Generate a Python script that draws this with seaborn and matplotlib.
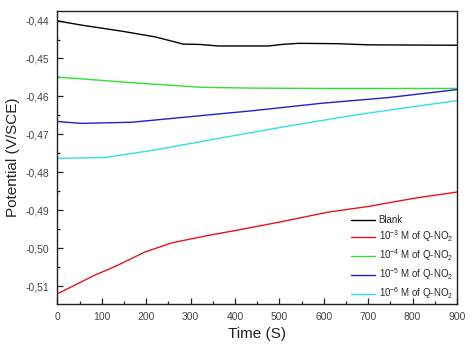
import matplotlib
matplotlib.use("Agg")
import matplotlib.pyplot as plt
import matplotlib.ticker as mticker
import numpy as np
import pandas as pd
import seaborn as sns

# Open-circuit potential vs time for each inhibitor concentration
blank_t = [0, 54, 145, 220, 283, 321, 362, 475, 505, 543, 633, 700, 888, 900]
blank_v = [-0.4401, -0.4412, -0.4428, -0.4443, -0.4462, -0.4463, -0.4467, -0.4467,
           -0.4463, -0.4460, -0.4461, -0.4464, -0.4465, -0.4465]

c3_t = [0, 84, 130, 197, 257, 332, 407, 505, 609, 700, 805, 900]
c3_v = [-0.5120, -0.5071, -0.5048, -0.5010, -0.4986, -0.4968, -0.4952, -0.4930,
        -0.4905, -0.4890, -0.4868, -0.4852]

c4_t = [0, 69, 182, 325, 437, 600, 900]
c4_v = [-0.4549, -0.4555, -0.4565, -0.4576, -0.4578, -0.4579, -0.4579]

c5_t = [0, 54, 167, 257, 445, 595, 745, 900]
c5_v = [-0.4666, -0.4671, -0.4668, -0.4658, -0.4637, -0.4618, -0.4603, -0.4582]

c6_t = [0, 107, 220, 370, 520, 670, 820, 900]
c6_v = [-0.4763, -0.4761, -0.4741, -0.4709, -0.4678, -0.4649, -0.4624, -0.4611]

labels = ["Blank",
          r"10$^{-3}$ M of Q-NO$_2$",
          r"10$^{-4}$ M of Q-NO$_2$",
          r"10$^{-5}$ M of Q-NO$_2$",
          r"10$^{-6}$ M of Q-NO$_2$"]
colors = ["#000000", "#e8141c", "#33dd33", "#2020c8", "#33e0e0"]

series = [(blank_t, blank_v), (c3_t, c3_v), (c4_t, c4_v), (c5_t, c5_v), (c6_t, c6_v)]
frames = []
for lab, (t, v) in zip(labels, series):
    frames.append(pd.DataFrame({"Time": t, "Potential": v, "Sample": lab}))
df = pd.concat(frames, ignore_index=True)

sns.set_style("ticks")
plt.rcParams["font.family"] = ["Liberation Sans", "DejaVu Sans"]
plt.rcParams["mathtext.fontset"] = "custom"
plt.rcParams["mathtext.rm"] = "Liberation Sans"
plt.rcParams["mathtext.it"] = "Liberation Sans"

fig = plt.figure(figsize=(4.74, 3.47), dpi=100)
ax = fig.add_axes([0.1213, 0.1239, 0.8428, 0.8453])

sns.lineplot(data=df, x="Time", y="Potential", hue="Sample", hue_order=labels,
             palette=dict(zip(labels, colors)), sort=False, estimator=None,
             linewidth=1.0, ax=ax)

ax.set_xlim(0, 900)
ax.set_ylim(-0.5147, -0.4374)
ax.xaxis.set_major_locator(mticker.MultipleLocator(100))
ax.xaxis.set_minor_locator(mticker.MultipleLocator(50))
ax.yaxis.set_major_locator(mticker.MultipleLocator(0.01))
ax.yaxis.set_minor_locator(mticker.MultipleLocator(0.005))
ax.yaxis.set_major_formatter(mticker.FuncFormatter(lambda v, p: f"{v:.2f}".replace(".", ",")))

ax.tick_params(which="both", direction="in", top=False, right=False,
               colors="#222222", labelcolor="#444444", labelsize=7.5, width=0.9)
ax.tick_params(which="major", length=4, pad=6)
ax.tick_params(which="minor", length=2)
for s in ax.spines.values():
    s.set_linewidth(1.0)
    s.set_color("#222222")

ax.set_xlabel("Time (S)", fontsize=11, color="#222222", labelpad=3)
ax.set_ylabel("Potential (V/SCE)", fontsize=11, color="#222222", labelpad=4)

ax.legend(loc="lower right", bbox_to_anchor=(1.005, -0.01), frameon=False,
          fontsize=7, handlelength=2.5, handletextpad=0.35, labelspacing=0.32,
          borderaxespad=0.2)

fig.savefig("out.png", dpi=100)
